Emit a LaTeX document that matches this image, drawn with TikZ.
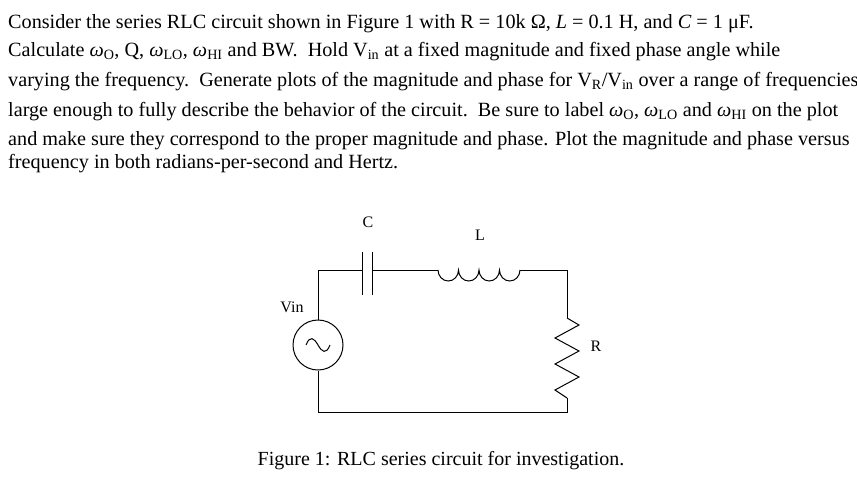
\documentclass[tikz,border=0pt]{standalone}
\usepackage{fontspec}
\setmainfont{Liberation Serif}
\usetikzlibrary{decorations.pathmorphing}
\begin{document}
\begin{tikzpicture}[x=1pt,y=-1pt,
  txt/.style={anchor=base west,inner sep=0pt,font=\fontsize{20.2}{22}\selectfont},
  lbl/.style={inner sep=0pt,font=\fontsize{16}{18}\selectfont},
  wire/.style={line width=1pt}]
\useasboundingbox (0,0) rectangle (857,485);
\newcommand{\w}{\textit{ω}}
\node[txt] (t1) at (8,28) {Consider the series RLC circuit shown in Figure 1 with R = 10k Ω, \textit{L} = 0.1 H, and \textit{C} = 1 μF.};
\node[txt] (t2) at (8,56) {Calculate \w\textsubscript{O}, Q, \w\textsubscript{LO}, \w\textsubscript{HI} and BW.\ \ Hold V\textsubscript{in} at a fixed magnitude and fixed phase angle while};
\node[txt] (t3) at (8,86) {varying the frequency.\ \ Generate plots of the magnitude and phase for V\textsubscript{R}/V\textsubscript{in} over a range of frequencies};
\node[txt] (t4) at (8,116) {large enough to fully describe the behavior of the circuit.\ \ Be sure to label \w\textsubscript{O}, \w\textsubscript{LO} and \w\textsubscript{HI} on the plot};
\node[txt] (t5) at (8,145) {and make sure they correspond to the proper magnitude and phase. Plot the magnitude and phase versus};
\node[txt] (t6) at (8,168) {frequency in both radians-per-second and Hertz.};
% circuit
\coordinate (tl) at (318,270);
\coordinate (tr) at (567,270);
\coordinate (br) at (567,412);
\coordinate (bl) at (318,412);
\node[draw,circle,line width=1pt,minimum size=50pt,inner sep=0pt] (src) at (318,345) {};
\draw[line width=1pt] (306,345) .. controls (310,335) and (314,338) .. (318,345) .. controls (322,352) and (326,355) .. (330,345);
\coordinate (c1) at (362,270);
\coordinate (c2) at (372,270);
\coordinate (l1) at (438,270);
\coordinate (l2) at (520,270);
\coordinate (r1) at (567,318);
\coordinate (r2) at (567,398);
\draw[wire] (src.north) -- (tl) -- (c1);
\draw[wire] (362,252) -- (362,295);
\draw[wire] (372,252) -- (372,295);
\draw[wire] (c2) -- (l1);
\draw[wire] (l1) arc (180:0:10.25 and 11) arc (180:0:10.25 and 11) arc (180:0:10.25 and 11) arc (180:0:10.25 and 11);
\draw[wire] (l2) -- (tr) -- (r1);
\draw[wire] (r1) -- (579,325) -- (555,338) -- (579,351) -- (555,364) -- (579,377) -- (555,390) -- (r2);
\draw[wire] (r2) -- (br) -- (bl) -- (src.south);
\node[lbl] (lc) at (368,222) {C};
\node[lbl] (ll) at (480,235) {L};
\node[lbl] (lv) at (292,307) {Vin};
\node[lbl] (lr) at (596,346) {R};
\node[inner sep=0pt,font=\fontsize{20}{22}\selectfont] (cap) at (441,461) {Figure 1: RLC series circuit for investigation.};
\end{tikzpicture}
\end{document}
